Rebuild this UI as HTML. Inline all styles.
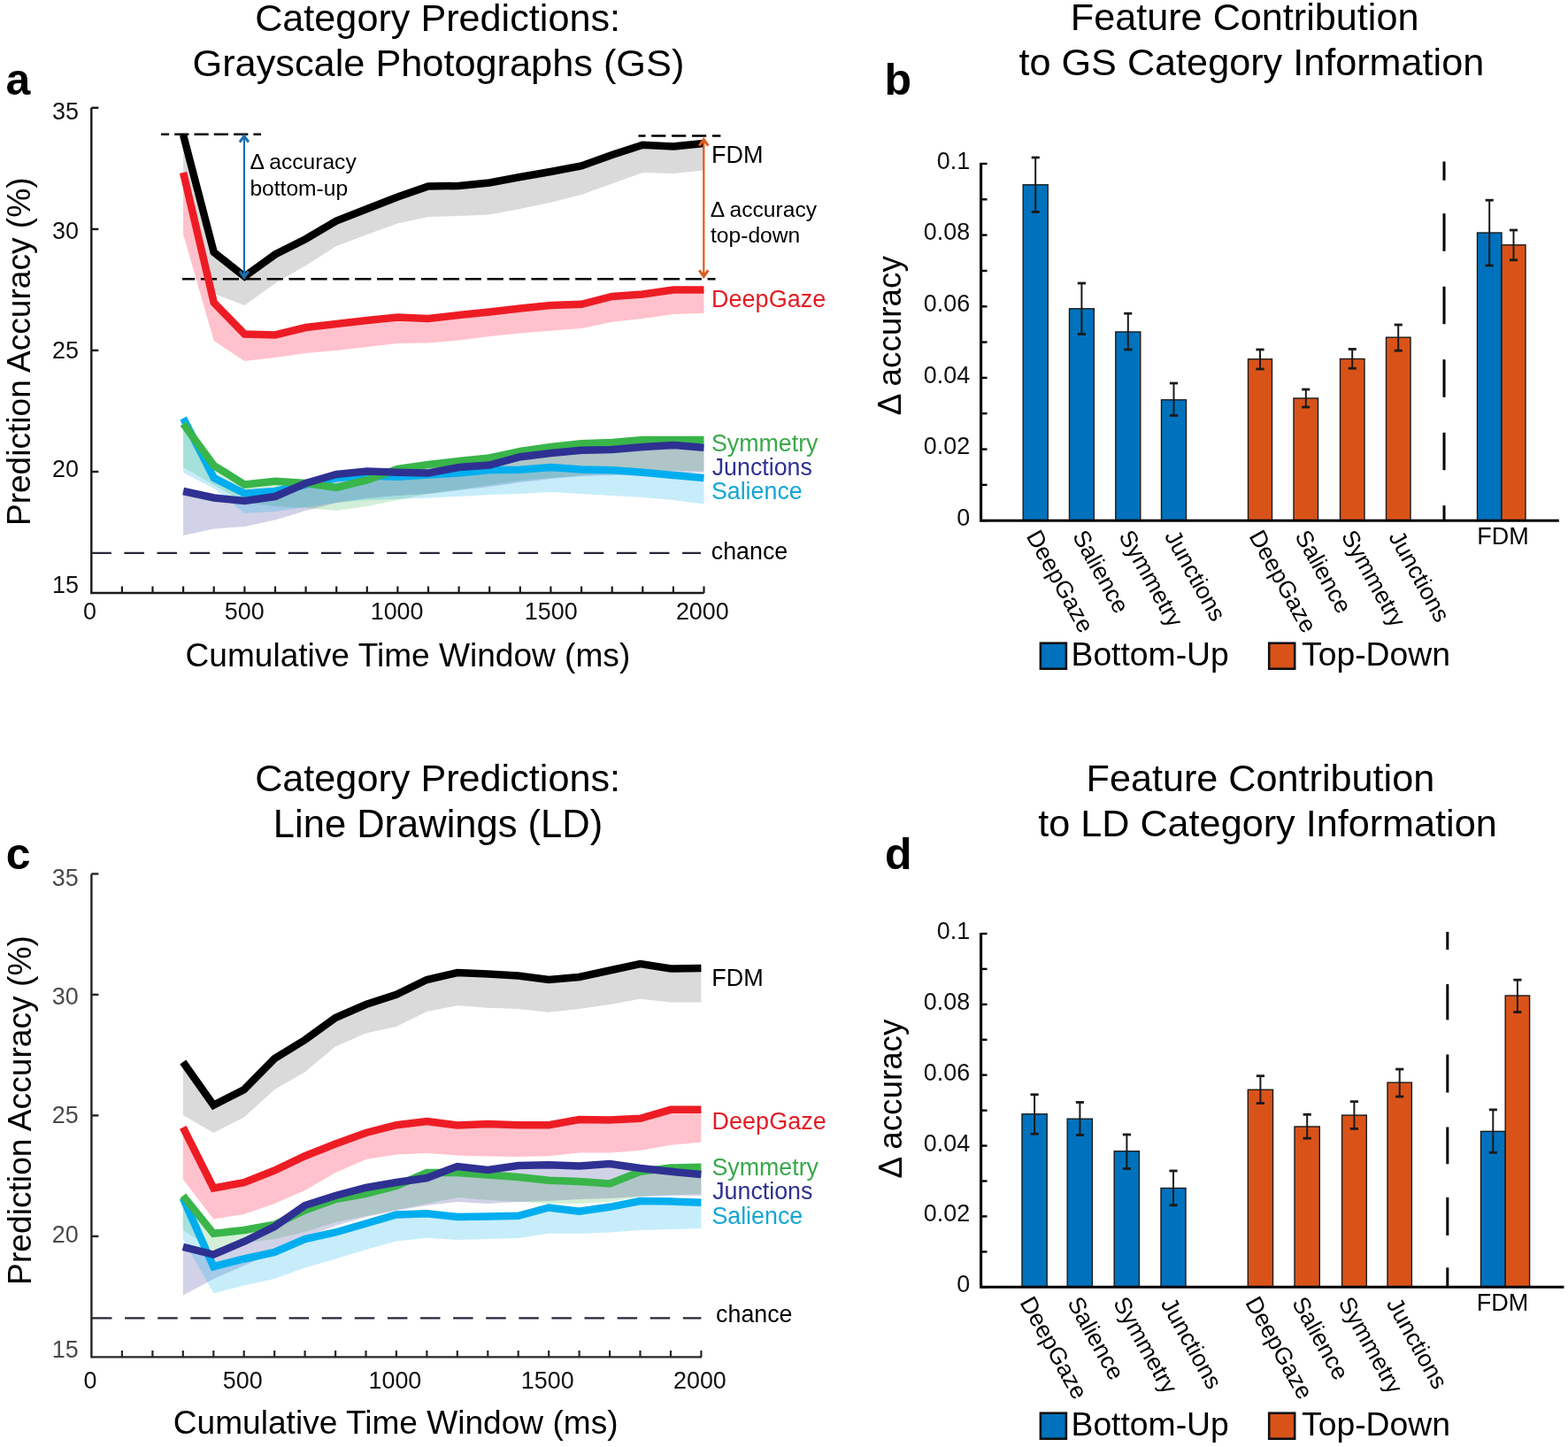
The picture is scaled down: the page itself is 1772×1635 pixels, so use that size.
<!DOCTYPE html>
<html><head><meta charset="utf-8"><title>Figure</title>
<style>html,body{margin:0;padding:0;background:#fff;} svg{display:block;} text{font-family:'Liberation Sans',Arial,Helvetica,sans-serif;}</style>
</head><body>
<svg width="1772" height="1635" viewBox="0 0 1772 1635">
<rect width="1772" height="1635" fill="#fff"/>
<polygon points="207.1,152.5 241.7,285.0 276.4,312.5 311.0,287.5 345.6,270.0 380.2,249.5 414.8,236.0 449.4,222.5 484.0,210.5 518.6,210.0 553.2,206.5 587.8,200.0 622.4,194.0 657.1,187.5 691.7,175.0 726.3,163.8 760.9,165.5 795.5,162.0 795.5,192.5 760.9,196.0 726.3,195.0 691.7,207.5 657.1,220.0 622.4,228.8 587.8,236.0 553.2,242.5 518.6,244.0 484.0,245.0 449.4,252.5 414.8,265.0 380.2,278.0 345.6,300.0 311.0,320.0 276.4,345.0 241.7,332.0 207.1,200.0" fill="#dadada" fill-opacity="1"/>
<polygon points="207.1,195.0 241.7,342.0 276.4,377.5 311.0,378.5 345.6,370.0 380.2,366.0 414.8,362.0 449.4,358.5 484.0,360.0 518.6,356.0 553.2,352.5 587.8,348.5 622.4,345.0 657.1,343.8 691.7,335.0 726.3,332.5 760.9,327.5 795.5,327.5 795.5,353.8 760.9,355.0 726.3,360.0 691.7,363.8 657.1,371.0 622.4,373.8 587.8,376.5 553.2,380.0 518.6,384.5 484.0,387.5 449.4,388.0 414.8,392.0 380.2,396.0 345.6,399.0 311.0,404.0 276.4,408.0 241.7,385.0 207.1,265.0" fill="#ffc2cc" fill-opacity="1"/>
<polygon points="207.1,478.8 241.7,526.0 276.4,547.5 311.0,543.8 345.6,546.0 380.2,551.0 414.8,542.5 449.4,530.0 484.0,525.0 518.6,521.0 553.2,517.5 587.8,510.0 622.4,505.0 657.1,501.2 691.7,500.0 726.3,497.0 760.9,497.0 795.5,497.0 795.5,532.0 760.9,532.0 726.3,533.0 691.7,535.0 657.1,537.0 622.4,540.0 587.8,543.0 553.2,548.0 518.6,553.0 484.0,558.0 449.4,565.0 414.8,572.0 380.2,577.0 345.6,574.0 311.0,572.0 276.4,568.0 241.7,548.0 207.1,528.0" fill="#39b54a" fill-opacity="0.22"/>
<polygon points="207.1,555.0 241.7,562.5 276.4,566.0 311.0,561.0 345.6,546.0 380.2,536.0 414.8,532.5 449.4,533.8 484.0,534.5 518.6,528.0 553.2,525.5 587.8,516.2 622.4,512.0 657.1,508.8 691.7,508.0 726.3,505.0 760.9,503.0 795.5,505.8 795.5,534.0 760.9,534.0 726.3,535.0 691.7,537.0 657.1,538.0 622.4,541.0 587.8,545.0 553.2,550.0 518.6,554.0 484.0,558.0 449.4,560.0 414.8,563.0 380.2,568.0 345.6,577.0 311.0,587.5 276.4,595.0 241.7,597.5 207.1,605.0" fill="#2e3192" fill-opacity="0.22"/>
<polygon points="207.1,472.5 241.7,540.0 276.4,557.5 311.0,555.0 345.6,547.5 380.2,540.0 414.8,537.5 449.4,538.8 484.0,536.5 518.6,534.5 553.2,531.0 587.8,530.8 622.4,528.0 657.1,530.5 691.7,531.2 726.3,533.8 760.9,537.0 795.5,540.0 795.5,569.5 760.9,565.0 726.3,562.0 691.7,560.0 657.1,558.0 622.4,556.0 587.8,558.0 553.2,559.0 518.6,561.0 484.0,562.5 449.4,564.0 414.8,565.0 380.2,568.0 345.6,573.0 311.0,578.0 276.4,580.0 241.7,552.0 207.1,534.0" fill="#00aeef" fill-opacity="0.22"/>
<line x1="103.3" y1="624.8" x2="792" y2="624.8" stroke="#262638" stroke-width="2.3" stroke-dasharray="22.5 14.6"/>
<line x1="182" y1="151.7" x2="295" y2="151.7" stroke="#000" stroke-width="2.6" stroke-dasharray="16.2 6.1" stroke-dashoffset="7.1"/>
<line x1="721.5" y1="153.5" x2="814.4" y2="153.5" stroke="#000" stroke-width="2.6" stroke-dasharray="16.2 6.7" stroke-dashoffset="8.2"/>
<line x1="206" y1="315.3" x2="808.5" y2="315.3" stroke="#000" stroke-width="2.6" stroke-dasharray="18.2 6.7" stroke-dashoffset="4"/>
<polyline points="207.1,472.5 241.7,540.0 276.4,557.5 311.0,555.0 345.6,547.5 380.2,540.0 414.8,537.5 449.4,538.8 484.0,536.5 518.6,534.5 553.2,531.0 587.8,530.8 622.4,528.0 657.1,530.5 691.7,531.2 726.3,533.8 760.9,537.0 795.5,540.0" fill="none" stroke="#00aeef" stroke-width="8.5" stroke-linejoin="miter" stroke-miterlimit="10" stroke-linecap="butt"/>
<polyline points="207.1,478.8 241.7,526.0 276.4,547.5 311.0,543.8 345.6,546.0 380.2,551.0 414.8,542.5 449.4,530.0 484.0,525.0 518.6,521.0 553.2,517.5 587.8,510.0 622.4,505.0 657.1,501.2 691.7,500.0 726.3,497.0 760.9,497.0 795.5,497.0" fill="none" stroke="#39b54a" stroke-width="8.5" stroke-linejoin="miter" stroke-miterlimit="10" stroke-linecap="butt"/>
<polyline points="207.1,555.0 241.7,562.5 276.4,566.0 311.0,561.0 345.6,546.0 380.2,536.0 414.8,532.5 449.4,533.8 484.0,534.5 518.6,528.0 553.2,525.5 587.8,516.2 622.4,512.0 657.1,508.8 691.7,508.0 726.3,505.0 760.9,503.0 795.5,505.8" fill="none" stroke="#2e3192" stroke-width="8.5" stroke-linejoin="miter" stroke-miterlimit="10" stroke-linecap="butt"/>
<polyline points="207.1,195.0 241.7,342.0 276.4,377.5 311.0,378.5 345.6,370.0 380.2,366.0 414.8,362.0 449.4,358.5 484.0,360.0 518.6,356.0 553.2,352.5 587.8,348.5 622.4,345.0 657.1,343.8 691.7,335.0 726.3,332.5 760.9,327.5 795.5,327.5" fill="none" stroke="#ed1c24" stroke-width="8.5" stroke-linejoin="miter" stroke-miterlimit="10" stroke-linecap="butt"/>
<polyline points="207.1,152.5 241.7,285.0 276.4,312.5 311.0,287.5 345.6,270.0 380.2,249.5 414.8,236.0 449.4,222.5 484.0,210.5 518.6,210.0 553.2,206.5 587.8,200.0 622.4,194.0 657.1,187.5 691.7,175.0 726.3,163.8 760.9,165.5 795.5,162.0" fill="none" stroke="#000000" stroke-width="8.5" stroke-linejoin="miter" stroke-miterlimit="10" stroke-linecap="butt"/>
<line x1="275.9" y1="154.5" x2="275.9" y2="312.5" stroke="#1f6fae" stroke-width="2.2"/>
<path d="M270.9,160.7 L275.9,153.7 L280.9,160.7" fill="none" stroke="#1f6fae" stroke-width="3" stroke-linejoin="miter"/>
<path d="M270.9,306.3 L275.9,313.3 L280.9,306.3" fill="none" stroke="#1f6fae" stroke-width="3" stroke-linejoin="miter"/>
<line x1="795.3" y1="158.5" x2="795.3" y2="311.5" stroke="#e05a1e" stroke-width="2.2"/>
<path d="M790.3,164.7 L795.3,157.7 L800.3,164.7" fill="none" stroke="#e05a1e" stroke-width="3" stroke-linejoin="miter"/>
<path d="M790.3,305.3 L795.3,312.3 L800.3,305.3" fill="none" stroke="#e05a1e" stroke-width="3" stroke-linejoin="miter"/>
<path d="M103.3,121.8 V670 H795.5" fill="none" stroke="#1a1a1a" stroke-width="2.4"/>
<line x1="103.3" y1="121.8" x2="111.3" y2="121.8" stroke="#1a1a1a" stroke-width="2.4"/>
<line x1="103.3" y1="258.9" x2="111.3" y2="258.9" stroke="#1a1a1a" stroke-width="2.4"/>
<line x1="103.3" y1="395.9" x2="111.3" y2="395.9" stroke="#1a1a1a" stroke-width="2.4"/>
<line x1="103.3" y1="533.0" x2="111.3" y2="533.0" stroke="#1a1a1a" stroke-width="2.4"/>
<line x1="137.9" y1="670" x2="137.9" y2="662.5" stroke="#1a1a1a" stroke-width="2.2"/>
<line x1="172.5" y1="670" x2="172.5" y2="662.5" stroke="#1a1a1a" stroke-width="2.2"/>
<line x1="207.1" y1="670" x2="207.1" y2="662.5" stroke="#1a1a1a" stroke-width="2.2"/>
<line x1="241.7" y1="670" x2="241.7" y2="662.5" stroke="#1a1a1a" stroke-width="2.2"/>
<line x1="276.4" y1="670" x2="276.4" y2="662.5" stroke="#1a1a1a" stroke-width="2.2"/>
<line x1="311.0" y1="670" x2="311.0" y2="662.5" stroke="#1a1a1a" stroke-width="2.2"/>
<line x1="345.6" y1="670" x2="345.6" y2="662.5" stroke="#1a1a1a" stroke-width="2.2"/>
<line x1="380.2" y1="670" x2="380.2" y2="662.5" stroke="#1a1a1a" stroke-width="2.2"/>
<line x1="414.8" y1="670" x2="414.8" y2="662.5" stroke="#1a1a1a" stroke-width="2.2"/>
<line x1="449.4" y1="670" x2="449.4" y2="662.5" stroke="#1a1a1a" stroke-width="2.2"/>
<line x1="484.0" y1="670" x2="484.0" y2="662.5" stroke="#1a1a1a" stroke-width="2.2"/>
<line x1="518.6" y1="670" x2="518.6" y2="662.5" stroke="#1a1a1a" stroke-width="2.2"/>
<line x1="553.2" y1="670" x2="553.2" y2="662.5" stroke="#1a1a1a" stroke-width="2.2"/>
<line x1="587.8" y1="670" x2="587.8" y2="662.5" stroke="#1a1a1a" stroke-width="2.2"/>
<line x1="622.4" y1="670" x2="622.4" y2="662.5" stroke="#1a1a1a" stroke-width="2.2"/>
<line x1="657.1" y1="670" x2="657.1" y2="662.5" stroke="#1a1a1a" stroke-width="2.2"/>
<line x1="691.7" y1="670" x2="691.7" y2="662.5" stroke="#1a1a1a" stroke-width="2.2"/>
<line x1="726.3" y1="670" x2="726.3" y2="662.5" stroke="#1a1a1a" stroke-width="2.2"/>
<line x1="760.9" y1="670" x2="760.9" y2="662.5" stroke="#1a1a1a" stroke-width="2.2"/>
<line x1="795.5" y1="670" x2="795.5" y2="662.5" stroke="#1a1a1a" stroke-width="2.2"/>
<text x="88.9" y="134.8" font-size="26.9" fill="#111" text-anchor="end" >35</text>
<text x="88.9" y="270.4" font-size="26.9" fill="#111" text-anchor="end" >30</text>
<text x="88.9" y="405.0" font-size="26.9" fill="#111" text-anchor="end" >25</text>
<text x="88.9" y="538.8" font-size="26.9" fill="#111" text-anchor="end" >20</text>
<text x="88.9" y="669.6" font-size="26.9" fill="#111" text-anchor="end" >15</text>
<text x="101.5" y="700.3" font-size="26.9" fill="#111" text-anchor="middle" >0</text>
<text x="276.2" y="700.3" font-size="26.9" fill="#111" text-anchor="middle" >500</text>
<text x="448.6" y="700.3" font-size="26.9" fill="#111" text-anchor="middle" >1000</text>
<text x="622.7" y="700.3" font-size="26.9" fill="#111" text-anchor="middle" >1500</text>
<text x="793.8" y="700.3" font-size="26.9" fill="#111" text-anchor="middle" >2000</text>
<text x="460.9" y="752.5" font-size="37.1" fill="#000" text-anchor="middle" >Cumulative Time Window (ms)</text>
<text transform="translate(33.6,397.3) rotate(-90)" font-size="37.1" text-anchor="middle" fill="#000">Prediction Accuracy (%)</text>
<text x="494.6" y="35.0" font-size="43.2" fill="#000" text-anchor="middle" >Category Predictions:</text>
<text x="495.4" y="86.3" font-size="43.3" fill="#000" text-anchor="middle" >Grayscale Photographs (GS)</text>
<text x="6.6" y="107.1" font-size="50" font-weight="bold" fill="#000">a</text>
<text x="803.9" y="184.0" font-size="27" fill="#000" text-anchor="start" >FDM</text>
<text x="804.1" y="346.8" font-size="27" fill="#e31b23" text-anchor="start" >DeepGaze</text>
<text x="803.9" y="509.8" font-size="26.8" fill="#3aa84a" text-anchor="start" >Symmetry</text>
<text x="804.7" y="537.3" font-size="26.8" fill="#2e3192" text-anchor="start" >Junctions</text>
<text x="803.9" y="564.4" font-size="26.8" fill="#13a6d4" text-anchor="start" >Salience</text>
<text x="803.8" y="631.8" font-size="26.8" fill="#000" text-anchor="start" >chance</text>
<text x="282.4" y="190.5" font-size="24.6" fill="#000" text-anchor="start" >Δ accuracy</text>
<text x="282.4" y="220.5" font-size="24.6" fill="#000" text-anchor="start" >bottom-up</text>
<text x="802.7" y="244.7" font-size="24.6" fill="#000" text-anchor="start" >Δ accuracy</text>
<text x="803.0" y="273.9" font-size="24.6" fill="#000" text-anchor="start" >top-down</text>
<polygon points="206.8,1200.0 241.3,1248.8 275.7,1231.2 310.2,1196.2 344.6,1175.0 379.1,1150.0 413.5,1135.0 447.9,1123.8 482.4,1107.0 516.8,1099.0 551.3,1100.5 585.7,1102.5 620.2,1107.0 654.6,1104.0 689.1,1096.5 723.5,1089.0 758.0,1094.5 792.4,1094.0 792.4,1132.5 758.0,1132.5 723.5,1128.8 689.1,1135.0 654.6,1140.0 620.2,1143.8 585.7,1140.0 551.3,1138.8 516.8,1136.2 482.4,1143.0 447.9,1160.0 413.5,1167.5 379.1,1182.5 344.6,1211.2 310.2,1231.2 275.7,1262.5 241.3,1280.0 206.8,1260.0" fill="#dadada" fill-opacity="1"/>
<polygon points="206.8,1273.8 241.3,1342.5 275.7,1336.2 310.2,1322.5 344.6,1306.2 379.1,1292.5 413.5,1280.0 447.9,1271.2 482.4,1267.0 516.8,1271.5 551.3,1270.0 585.7,1271.2 620.2,1271.2 654.6,1265.0 689.1,1265.5 723.5,1263.8 758.0,1253.8 792.4,1253.8 792.4,1290.5 758.0,1293.8 723.5,1300.0 689.1,1302.5 654.6,1302.5 620.2,1306.2 585.7,1307.0 551.3,1306.5 516.8,1305.5 482.4,1303.0 447.9,1304.5 413.5,1310.0 379.1,1325.0 344.6,1345.0 310.2,1360.0 275.7,1372.0 241.3,1377.5 206.8,1332.5" fill="#ffc2cc" fill-opacity="1"/>
<polygon points="206.8,1351.2 241.3,1393.8 275.7,1390.0 310.2,1383.8 344.6,1367.5 379.1,1355.0 413.5,1348.8 447.9,1340.0 482.4,1325.0 516.8,1325.0 551.3,1327.5 585.7,1330.0 620.2,1333.8 654.6,1335.0 689.1,1337.5 723.5,1323.8 758.0,1319.5 792.4,1318.8 792.4,1349.0 758.0,1350.0 723.5,1352.0 689.1,1358.0 654.6,1360.0 620.2,1360.0 585.7,1358.0 551.3,1356.0 516.8,1353.0 482.4,1360.0 447.9,1367.0 413.5,1374.0 379.1,1381.0 344.6,1392.0 310.2,1400.0 275.7,1405.0 241.3,1412.5 206.8,1390.0" fill="#39b54a" fill-opacity="0.22"/>
<polygon points="206.8,1408.8 241.3,1417.5 275.7,1403.0 310.2,1386.0 344.6,1362.0 379.1,1351.0 413.5,1342.0 447.9,1336.0 482.4,1331.0 516.8,1318.0 551.3,1322.0 585.7,1317.0 620.2,1316.2 654.6,1317.5 689.1,1315.0 723.5,1320.0 758.0,1323.8 792.4,1327.0 792.4,1351.0 758.0,1351.0 723.5,1352.0 689.1,1354.0 654.6,1355.0 620.2,1357.0 585.7,1358.0 551.3,1360.0 516.8,1358.0 482.4,1362.0 447.9,1368.0 413.5,1375.0 379.1,1385.0 344.6,1398.0 310.2,1415.0 275.7,1430.0 241.3,1445.0 206.8,1463.8" fill="#2e3192" fill-opacity="0.22"/>
<polygon points="206.8,1353.8 241.3,1431.2 275.7,1422.5 310.2,1415.0 344.6,1400.0 379.1,1392.5 413.5,1382.5 447.9,1372.5 482.4,1371.2 516.8,1375.0 551.3,1374.5 585.7,1373.8 620.2,1364.5 654.6,1368.8 689.1,1363.8 723.5,1357.0 758.0,1357.5 792.4,1358.8 792.4,1388.0 758.0,1389.0 723.5,1390.0 689.1,1392.5 654.6,1394.0 620.2,1393.8 585.7,1399.0 551.3,1400.0 516.8,1401.0 482.4,1398.8 447.9,1402.5 413.5,1412.0 379.1,1422.5 344.6,1432.5 310.2,1445.0 275.7,1452.5 241.3,1461.2 206.8,1400.0" fill="#00aeef" fill-opacity="0.22"/>
<line x1="104" y1="1489.3" x2="792.4" y2="1489.3" stroke="#262638" stroke-width="2.3" stroke-dasharray="22.5 14.6"/>
<polyline points="206.8,1353.8 241.3,1431.2 275.7,1422.5 310.2,1415.0 344.6,1400.0 379.1,1392.5 413.5,1382.5 447.9,1372.5 482.4,1371.2 516.8,1375.0 551.3,1374.5 585.7,1373.8 620.2,1364.5 654.6,1368.8 689.1,1363.8 723.5,1357.0 758.0,1357.5 792.4,1358.8" fill="none" stroke="#00aeef" stroke-width="8.5" stroke-linejoin="miter" stroke-miterlimit="10" stroke-linecap="butt"/>
<polyline points="206.8,1351.2 241.3,1393.8 275.7,1390.0 310.2,1383.8 344.6,1367.5 379.1,1355.0 413.5,1348.8 447.9,1340.0 482.4,1325.0 516.8,1325.0 551.3,1327.5 585.7,1330.0 620.2,1333.8 654.6,1335.0 689.1,1337.5 723.5,1323.8 758.0,1319.5 792.4,1318.8" fill="none" stroke="#39b54a" stroke-width="8.5" stroke-linejoin="miter" stroke-miterlimit="10" stroke-linecap="butt"/>
<polyline points="206.8,1408.8 241.3,1417.5 275.7,1403.0 310.2,1386.0 344.6,1362.0 379.1,1351.0 413.5,1342.0 447.9,1336.0 482.4,1331.0 516.8,1318.0 551.3,1322.0 585.7,1317.0 620.2,1316.2 654.6,1317.5 689.1,1315.0 723.5,1320.0 758.0,1323.8 792.4,1327.0" fill="none" stroke="#2e3192" stroke-width="8.5" stroke-linejoin="miter" stroke-miterlimit="10" stroke-linecap="butt"/>
<polyline points="206.8,1273.8 241.3,1342.5 275.7,1336.2 310.2,1322.5 344.6,1306.2 379.1,1292.5 413.5,1280.0 447.9,1271.2 482.4,1267.0 516.8,1271.5 551.3,1270.0 585.7,1271.2 620.2,1271.2 654.6,1265.0 689.1,1265.5 723.5,1263.8 758.0,1253.8 792.4,1253.8" fill="none" stroke="#ed1c24" stroke-width="8.5" stroke-linejoin="miter" stroke-miterlimit="10" stroke-linecap="butt"/>
<polyline points="206.8,1200.0 241.3,1248.8 275.7,1231.2 310.2,1196.2 344.6,1175.0 379.1,1150.0 413.5,1135.0 447.9,1123.8 482.4,1107.0 516.8,1099.0 551.3,1100.5 585.7,1102.5 620.2,1107.0 654.6,1104.0 689.1,1096.5 723.5,1089.0 758.0,1094.5 792.4,1094.0" fill="none" stroke="#000000" stroke-width="8.5" stroke-linejoin="miter" stroke-miterlimit="10" stroke-linecap="butt"/>
<path d="M103.4,987.5 V1533.4 H793" fill="none" stroke="#262626" stroke-width="2.4"/>
<line x1="103.4" y1="987.4" x2="111.4" y2="987.4" stroke="#262626" stroke-width="2.4"/>
<line x1="103.4" y1="1123.9" x2="111.4" y2="1123.9" stroke="#262626" stroke-width="2.4"/>
<line x1="103.4" y1="1260.4" x2="111.4" y2="1260.4" stroke="#262626" stroke-width="2.4"/>
<line x1="103.4" y1="1396.9" x2="111.4" y2="1396.9" stroke="#262626" stroke-width="2.4"/>
<line x1="137.9" y1="1533.4" x2="137.9" y2="1526" stroke="#262626" stroke-width="2.2"/>
<line x1="172.4" y1="1533.4" x2="172.4" y2="1526" stroke="#262626" stroke-width="2.2"/>
<line x1="206.8" y1="1533.4" x2="206.8" y2="1526" stroke="#262626" stroke-width="2.2"/>
<line x1="241.3" y1="1533.4" x2="241.3" y2="1526" stroke="#262626" stroke-width="2.2"/>
<line x1="275.7" y1="1533.4" x2="275.7" y2="1526" stroke="#262626" stroke-width="2.2"/>
<line x1="310.2" y1="1533.4" x2="310.2" y2="1526" stroke="#262626" stroke-width="2.2"/>
<line x1="344.6" y1="1533.4" x2="344.6" y2="1526" stroke="#262626" stroke-width="2.2"/>
<line x1="379.1" y1="1533.4" x2="379.1" y2="1526" stroke="#262626" stroke-width="2.2"/>
<line x1="413.5" y1="1533.4" x2="413.5" y2="1526" stroke="#262626" stroke-width="2.2"/>
<line x1="447.9" y1="1533.4" x2="447.9" y2="1526" stroke="#262626" stroke-width="2.2"/>
<line x1="482.4" y1="1533.4" x2="482.4" y2="1526" stroke="#262626" stroke-width="2.2"/>
<line x1="516.8" y1="1533.4" x2="516.8" y2="1526" stroke="#262626" stroke-width="2.2"/>
<line x1="551.3" y1="1533.4" x2="551.3" y2="1526" stroke="#262626" stroke-width="2.2"/>
<line x1="585.7" y1="1533.4" x2="585.7" y2="1526" stroke="#262626" stroke-width="2.2"/>
<line x1="620.2" y1="1533.4" x2="620.2" y2="1526" stroke="#262626" stroke-width="2.2"/>
<line x1="654.6" y1="1533.4" x2="654.6" y2="1526" stroke="#262626" stroke-width="2.2"/>
<line x1="689.1" y1="1533.4" x2="689.1" y2="1526" stroke="#262626" stroke-width="2.2"/>
<line x1="723.5" y1="1533.4" x2="723.5" y2="1526" stroke="#262626" stroke-width="2.2"/>
<line x1="758.0" y1="1533.4" x2="758.0" y2="1526" stroke="#262626" stroke-width="2.2"/>
<line x1="792.4" y1="1533.4" x2="792.4" y2="1526" stroke="#262626" stroke-width="2.2"/>
<text x="88.6" y="1000.7" font-size="26.9" fill="#4a4a4a" text-anchor="end" >35</text>
<text x="88.6" y="1135.4" font-size="26.9" fill="#4a4a4a" text-anchor="end" >30</text>
<text x="88.6" y="1269.0" font-size="26.9" fill="#4a4a4a" text-anchor="end" >25</text>
<text x="88.6" y="1404.4" font-size="26.9" fill="#4a4a4a" text-anchor="end" >20</text>
<text x="88.6" y="1534.0" font-size="26.9" fill="#4a4a4a" text-anchor="end" >15</text>
<text x="102.0" y="1569.2" font-size="26.9" fill="#111" text-anchor="middle" >0</text>
<text x="274.2" y="1569.2" font-size="26.9" fill="#111" text-anchor="middle" >500</text>
<text x="446.4" y="1569.2" font-size="26.9" fill="#111" text-anchor="middle" >1000</text>
<text x="618.7" y="1569.2" font-size="26.9" fill="#111" text-anchor="middle" >1500</text>
<text x="790.9" y="1569.2" font-size="26.9" fill="#111" text-anchor="middle" >2000</text>
<text x="447.2" y="1620.2" font-size="37.1" fill="#000" text-anchor="middle" >Cumulative Time Window (ms)</text>
<text transform="translate(34.5,1254.5) rotate(-90)" font-size="37.2" text-anchor="middle" fill="#000">Prediction Accuracy (%)</text>
<text x="494.6" y="894.2" font-size="43.2" fill="#000" text-anchor="middle" >Category Predictions:</text>
<text x="495.0" y="945.9" font-size="43.5" fill="#000" text-anchor="middle" >Line Drawings (LD)</text>
<text x="6.8" y="982.2" font-size="50" font-weight="bold" fill="#000">c</text>
<text x="804.3" y="1114.2" font-size="27" fill="#000" text-anchor="start" >FDM</text>
<text x="804.6" y="1276.1" font-size="27" fill="#e31b23" text-anchor="start" >DeepGaze</text>
<text x="804.4" y="1327.8" font-size="26.8" fill="#3aa84a" text-anchor="start" >Symmetry</text>
<text x="805.2" y="1354.8" font-size="26.8" fill="#2e3192" text-anchor="start" >Junctions</text>
<text x="804.4" y="1382.8" font-size="26.8" fill="#13a6d4" text-anchor="start" >Salience</text>
<text x="809.1" y="1494.0" font-size="26.8" fill="#000" text-anchor="start" >chance</text>
<rect x="1156.2" y="208.8" width="28.0" height="379.5" fill="#0072bd" stroke="#1a1a1a" stroke-width="1.4"/>
<rect x="1208.5" y="348.8" width="27.8" height="239.5" fill="#0072bd" stroke="#1a1a1a" stroke-width="1.4"/>
<rect x="1260.8" y="375.0" width="28.0" height="213.2" fill="#0072bd" stroke="#1a1a1a" stroke-width="1.4"/>
<rect x="1312.5" y="451.8" width="28.0" height="136.5" fill="#0072bd" stroke="#1a1a1a" stroke-width="1.4"/>
<rect x="1410.5" y="405.8" width="27.0" height="182.5" fill="#d95319" stroke="#1a1a1a" stroke-width="1.4"/>
<rect x="1462.0" y="450.0" width="27.5" height="138.2" fill="#d95319" stroke="#1a1a1a" stroke-width="1.4"/>
<rect x="1514.5" y="405.5" width="27.5" height="182.7" fill="#d95319" stroke="#1a1a1a" stroke-width="1.4"/>
<rect x="1566.5" y="381.2" width="27.5" height="207.0" fill="#d95319" stroke="#1a1a1a" stroke-width="1.4"/>
<rect x="1669.5" y="263.0" width="27.5" height="325.2" fill="#0072bd" stroke="#1a1a1a" stroke-width="1.4"/>
<rect x="1697.0" y="276.8" width="27.0" height="311.5" fill="#d95319" stroke="#1a1a1a" stroke-width="1.4"/>
<line x1="1170.2" y1="178.0" x2="1170.2" y2="239.5" stroke="#1a1a1a" stroke-width="2"/>
<line x1="1165.7" y1="178.0" x2="1174.8" y2="178.0" stroke="#1a1a1a" stroke-width="2.8"/>
<line x1="1165.7" y1="239.5" x2="1174.8" y2="239.5" stroke="#1a1a1a" stroke-width="2.8"/>
<line x1="1222.4" y1="320.0" x2="1222.4" y2="377.5" stroke="#1a1a1a" stroke-width="2"/>
<line x1="1217.8" y1="320.0" x2="1227.0" y2="320.0" stroke="#1a1a1a" stroke-width="2.8"/>
<line x1="1217.8" y1="377.5" x2="1227.0" y2="377.5" stroke="#1a1a1a" stroke-width="2.8"/>
<line x1="1274.8" y1="354.2" x2="1274.8" y2="395.0" stroke="#1a1a1a" stroke-width="2"/>
<line x1="1270.2" y1="354.2" x2="1279.3" y2="354.2" stroke="#1a1a1a" stroke-width="2.8"/>
<line x1="1270.2" y1="395.0" x2="1279.3" y2="395.0" stroke="#1a1a1a" stroke-width="2.8"/>
<line x1="1326.5" y1="433.0" x2="1326.5" y2="469.5" stroke="#1a1a1a" stroke-width="2"/>
<line x1="1321.9" y1="433.0" x2="1331.1" y2="433.0" stroke="#1a1a1a" stroke-width="2.8"/>
<line x1="1321.9" y1="469.5" x2="1331.1" y2="469.5" stroke="#1a1a1a" stroke-width="2.8"/>
<line x1="1424.0" y1="395.0" x2="1424.0" y2="417.0" stroke="#1a1a1a" stroke-width="2"/>
<line x1="1419.4" y1="395.0" x2="1428.6" y2="395.0" stroke="#1a1a1a" stroke-width="2.8"/>
<line x1="1419.4" y1="417.0" x2="1428.6" y2="417.0" stroke="#1a1a1a" stroke-width="2.8"/>
<line x1="1475.8" y1="440.0" x2="1475.8" y2="460.0" stroke="#1a1a1a" stroke-width="2"/>
<line x1="1471.2" y1="440.0" x2="1480.3" y2="440.0" stroke="#1a1a1a" stroke-width="2.8"/>
<line x1="1471.2" y1="460.0" x2="1480.3" y2="460.0" stroke="#1a1a1a" stroke-width="2.8"/>
<line x1="1528.2" y1="394.5" x2="1528.2" y2="416.2" stroke="#1a1a1a" stroke-width="2"/>
<line x1="1523.7" y1="394.5" x2="1532.8" y2="394.5" stroke="#1a1a1a" stroke-width="2.8"/>
<line x1="1523.7" y1="416.2" x2="1532.8" y2="416.2" stroke="#1a1a1a" stroke-width="2.8"/>
<line x1="1580.2" y1="367.0" x2="1580.2" y2="396.2" stroke="#1a1a1a" stroke-width="2"/>
<line x1="1575.7" y1="367.0" x2="1584.8" y2="367.0" stroke="#1a1a1a" stroke-width="2.8"/>
<line x1="1575.7" y1="396.2" x2="1584.8" y2="396.2" stroke="#1a1a1a" stroke-width="2.8"/>
<line x1="1683.2" y1="226.2" x2="1683.2" y2="300.0" stroke="#1a1a1a" stroke-width="2"/>
<line x1="1678.7" y1="226.2" x2="1687.8" y2="226.2" stroke="#1a1a1a" stroke-width="2.8"/>
<line x1="1678.7" y1="300.0" x2="1687.8" y2="300.0" stroke="#1a1a1a" stroke-width="2.8"/>
<line x1="1710.5" y1="260.0" x2="1710.5" y2="293.8" stroke="#1a1a1a" stroke-width="2"/>
<line x1="1705.9" y1="260.0" x2="1715.1" y2="260.0" stroke="#1a1a1a" stroke-width="2.8"/>
<line x1="1705.9" y1="293.8" x2="1715.1" y2="293.8" stroke="#1a1a1a" stroke-width="2.8"/>
<line x1="1632" y1="182.5" x2="1632" y2="203.8" stroke="#000" stroke-width="3"/>
<line x1="1632" y1="241.2" x2="1632" y2="283.8" stroke="#000" stroke-width="3"/>
<line x1="1632" y1="323.8" x2="1632" y2="366.2" stroke="#000" stroke-width="3"/>
<line x1="1632" y1="406.2" x2="1632" y2="448.8" stroke="#000" stroke-width="3"/>
<line x1="1632" y1="488.8" x2="1632" y2="531.2" stroke="#000" stroke-width="3"/>
<line x1="1632" y1="571.2" x2="1632" y2="588.0" stroke="#000" stroke-width="3"/>
<path d="M1108.6,184.0 V588.2 H1761.8" fill="none" stroke="#000" stroke-width="3.1"/>
<line x1="1108.6" y1="588.2" x2="1115.5" y2="588.2" stroke="#000" stroke-width="2.4"/>
<line x1="1108.6" y1="547.9" x2="1115.5" y2="547.9" stroke="#000" stroke-width="2.4"/>
<line x1="1108.6" y1="507.6" x2="1115.5" y2="507.6" stroke="#000" stroke-width="2.4"/>
<line x1="1108.6" y1="467.2" x2="1115.5" y2="467.2" stroke="#000" stroke-width="2.4"/>
<line x1="1108.6" y1="426.9" x2="1115.5" y2="426.9" stroke="#000" stroke-width="2.4"/>
<line x1="1108.6" y1="386.6" x2="1115.5" y2="386.6" stroke="#000" stroke-width="2.4"/>
<line x1="1108.6" y1="346.3" x2="1115.5" y2="346.3" stroke="#000" stroke-width="2.4"/>
<line x1="1108.6" y1="306.0" x2="1115.5" y2="306.0" stroke="#000" stroke-width="2.4"/>
<line x1="1108.6" y1="265.6" x2="1115.5" y2="265.6" stroke="#000" stroke-width="2.4"/>
<line x1="1108.6" y1="225.3" x2="1115.5" y2="225.3" stroke="#000" stroke-width="2.4"/>
<line x1="1108.6" y1="185.0" x2="1115.5" y2="185.0" stroke="#000" stroke-width="2.4"/>
<text x="1096.1" y="593.8" font-size="26.9" fill="#111" text-anchor="end" >0</text>
<text x="1096.1" y="513.2" font-size="26.9" fill="#111" text-anchor="end" >0.02</text>
<text x="1096.1" y="432.5" font-size="26.9" fill="#111" text-anchor="end" >0.04</text>
<text x="1096.1" y="351.9" font-size="26.9" fill="#111" text-anchor="end" >0.06</text>
<text x="1096.1" y="271.2" font-size="26.9" fill="#111" text-anchor="end" >0.08</text>
<text x="1096.1" y="190.6" font-size="26.9" fill="#111" text-anchor="end" >0.1</text>
<text transform="translate(1017.5,379.2) rotate(-90)" font-size="36.8" text-anchor="middle" fill="#000">Δ accuracy</text>
<text x="1209.8" y="33.6" font-size="43.2" fill="#000" text-anchor="start" >Feature Contribution</text>
<text x="1151.5" y="85.4" font-size="43.2" fill="#000" text-anchor="start" >to GS Category Information</text>
<text x="999.4" y="107" font-size="50" font-weight="bold" fill="#000">b</text>
<text transform="translate(1159.2,605.4) rotate(61)" font-size="26.7" fill="#000">DeepGaze</text>
<text transform="translate(1211.4,605.4) rotate(61)" font-size="26.7" fill="#000">Salience</text>
<text transform="translate(1263.8,605.4) rotate(61)" font-size="26.7" fill="#000">Symmetry</text>
<text transform="translate(1315.5,605.4) rotate(61)" font-size="26.7" fill="#000">Junctions</text>
<text transform="translate(1411.0,605.4) rotate(61)" font-size="26.7" fill="#000">DeepGaze</text>
<text transform="translate(1462.8,605.4) rotate(61)" font-size="26.7" fill="#000">Salience</text>
<text transform="translate(1515.2,605.4) rotate(61)" font-size="26.7" fill="#000">Symmetry</text>
<text transform="translate(1568.8,606.2) rotate(61)" font-size="26.7" fill="#000">Junctions</text>
<text x="1698.5" y="615.0" font-size="27" fill="#000" text-anchor="middle" >FDM</text>
<rect x="1175.9" y="726.7" width="29" height="29" fill="#0072bd" stroke="#111" stroke-width="2.6"/>
<rect x="1434.2" y="726.7" width="29" height="29" fill="#d95319" stroke="#111" stroke-width="2.6"/>
<text x="1210.5" y="752.3" font-size="37.3" fill="#000" text-anchor="start" >Bottom-Up</text>
<text x="1471.0" y="752.3" font-size="37.3" fill="#000" text-anchor="start" >Top-Down</text>
<rect x="1155.0" y="1258.8" width="28.2" height="195.5" fill="#0072bd" stroke="#1a1a1a" stroke-width="1.4"/>
<rect x="1206.2" y="1264.2" width="28.2" height="190.0" fill="#0072bd" stroke="#1a1a1a" stroke-width="1.4"/>
<rect x="1259.2" y="1300.8" width="28.2" height="153.5" fill="#0072bd" stroke="#1a1a1a" stroke-width="1.4"/>
<rect x="1312.0" y="1342.5" width="28.0" height="111.8" fill="#0072bd" stroke="#1a1a1a" stroke-width="1.4"/>
<rect x="1410.3" y="1231.3" width="28.2" height="223.0" fill="#d95319" stroke="#1a1a1a" stroke-width="1.4"/>
<rect x="1463.0" y="1273.0" width="28.3" height="181.3" fill="#d95319" stroke="#1a1a1a" stroke-width="1.4"/>
<rect x="1516.6" y="1260.1" width="27.7" height="194.2" fill="#d95319" stroke="#1a1a1a" stroke-width="1.4"/>
<rect x="1568.0" y="1223.2" width="27.4" height="231.1" fill="#d95319" stroke="#1a1a1a" stroke-width="1.4"/>
<rect x="1673.5" y="1278.4" width="27.7" height="175.9" fill="#0072bd" stroke="#1a1a1a" stroke-width="1.4"/>
<rect x="1701.2" y="1125.0" width="27.4" height="329.3" fill="#d95319" stroke="#1a1a1a" stroke-width="1.4"/>
<line x1="1169.1" y1="1236.8" x2="1169.1" y2="1281.2" stroke="#1a1a1a" stroke-width="2"/>
<line x1="1164.5" y1="1236.8" x2="1173.7" y2="1236.8" stroke="#1a1a1a" stroke-width="2.8"/>
<line x1="1164.5" y1="1281.2" x2="1173.7" y2="1281.2" stroke="#1a1a1a" stroke-width="2.8"/>
<line x1="1220.4" y1="1245.5" x2="1220.4" y2="1282.5" stroke="#1a1a1a" stroke-width="2"/>
<line x1="1215.8" y1="1245.5" x2="1225.0" y2="1245.5" stroke="#1a1a1a" stroke-width="2.8"/>
<line x1="1215.8" y1="1282.5" x2="1225.0" y2="1282.5" stroke="#1a1a1a" stroke-width="2.8"/>
<line x1="1273.4" y1="1282.0" x2="1273.4" y2="1320.5" stroke="#1a1a1a" stroke-width="2"/>
<line x1="1268.8" y1="1282.0" x2="1278.0" y2="1282.0" stroke="#1a1a1a" stroke-width="2.8"/>
<line x1="1268.8" y1="1320.5" x2="1278.0" y2="1320.5" stroke="#1a1a1a" stroke-width="2.8"/>
<line x1="1326.0" y1="1323.0" x2="1326.0" y2="1361.8" stroke="#1a1a1a" stroke-width="2"/>
<line x1="1321.4" y1="1323.0" x2="1330.6" y2="1323.0" stroke="#1a1a1a" stroke-width="2.8"/>
<line x1="1321.4" y1="1361.8" x2="1330.6" y2="1361.8" stroke="#1a1a1a" stroke-width="2.8"/>
<line x1="1424.4" y1="1215.7" x2="1424.4" y2="1246.6" stroke="#1a1a1a" stroke-width="2"/>
<line x1="1419.8" y1="1215.7" x2="1429.0" y2="1215.7" stroke="#1a1a1a" stroke-width="2.8"/>
<line x1="1419.8" y1="1246.6" x2="1429.0" y2="1246.6" stroke="#1a1a1a" stroke-width="2.8"/>
<line x1="1477.2" y1="1259.3" x2="1477.2" y2="1286.2" stroke="#1a1a1a" stroke-width="2"/>
<line x1="1472.6" y1="1259.3" x2="1481.8" y2="1259.3" stroke="#1a1a1a" stroke-width="2.8"/>
<line x1="1472.6" y1="1286.2" x2="1481.8" y2="1286.2" stroke="#1a1a1a" stroke-width="2.8"/>
<line x1="1530.4" y1="1244.7" x2="1530.4" y2="1275.4" stroke="#1a1a1a" stroke-width="2"/>
<line x1="1525.8" y1="1244.7" x2="1535.0" y2="1244.7" stroke="#1a1a1a" stroke-width="2.8"/>
<line x1="1525.8" y1="1275.4" x2="1535.0" y2="1275.4" stroke="#1a1a1a" stroke-width="2.8"/>
<line x1="1581.7" y1="1208.1" x2="1581.7" y2="1239.1" stroke="#1a1a1a" stroke-width="2"/>
<line x1="1577.1" y1="1208.1" x2="1586.3" y2="1208.1" stroke="#1a1a1a" stroke-width="2.8"/>
<line x1="1577.1" y1="1239.1" x2="1586.3" y2="1239.1" stroke="#1a1a1a" stroke-width="2.8"/>
<line x1="1687.3" y1="1253.9" x2="1687.3" y2="1302.3" stroke="#1a1a1a" stroke-width="2"/>
<line x1="1682.8" y1="1253.9" x2="1691.9" y2="1253.9" stroke="#1a1a1a" stroke-width="2.8"/>
<line x1="1682.8" y1="1302.3" x2="1691.9" y2="1302.3" stroke="#1a1a1a" stroke-width="2.8"/>
<line x1="1714.9" y1="1107.2" x2="1714.9" y2="1143.6" stroke="#1a1a1a" stroke-width="2"/>
<line x1="1710.3" y1="1107.2" x2="1719.5" y2="1107.2" stroke="#1a1a1a" stroke-width="2.8"/>
<line x1="1710.3" y1="1143.6" x2="1719.5" y2="1143.6" stroke="#1a1a1a" stroke-width="2.8"/>
<line x1="1635.8" y1="1052.9" x2="1635.8" y2="1073.1" stroke="#000" stroke-width="3"/>
<line x1="1635.8" y1="1112.1" x2="1635.8" y2="1152.4" stroke="#000" stroke-width="3"/>
<line x1="1635.8" y1="1191.5" x2="1635.8" y2="1234.5" stroke="#000" stroke-width="3"/>
<line x1="1635.8" y1="1273.5" x2="1635.8" y2="1315.3" stroke="#000" stroke-width="3"/>
<line x1="1635.8" y1="1352.9" x2="1635.8" y2="1396.0" stroke="#000" stroke-width="3"/>
<line x1="1635.8" y1="1432.3" x2="1635.8" y2="1454.0" stroke="#000" stroke-width="3"/>
<path d="M1108.6,1054.0 V1454.3 H1767.5" fill="none" stroke="#000" stroke-width="3.1"/>
<line x1="1108.6" y1="1454.3" x2="1115.5" y2="1454.3" stroke="#000" stroke-width="2.4"/>
<line x1="1108.6" y1="1414.4" x2="1115.5" y2="1414.4" stroke="#000" stroke-width="2.4"/>
<line x1="1108.6" y1="1374.4" x2="1115.5" y2="1374.4" stroke="#000" stroke-width="2.4"/>
<line x1="1108.6" y1="1334.5" x2="1115.5" y2="1334.5" stroke="#000" stroke-width="2.4"/>
<line x1="1108.6" y1="1294.6" x2="1115.5" y2="1294.6" stroke="#000" stroke-width="2.4"/>
<line x1="1108.6" y1="1254.7" x2="1115.5" y2="1254.7" stroke="#000" stroke-width="2.4"/>
<line x1="1108.6" y1="1214.7" x2="1115.5" y2="1214.7" stroke="#000" stroke-width="2.4"/>
<line x1="1108.6" y1="1174.8" x2="1115.5" y2="1174.8" stroke="#000" stroke-width="2.4"/>
<line x1="1108.6" y1="1134.9" x2="1115.5" y2="1134.9" stroke="#000" stroke-width="2.4"/>
<line x1="1108.6" y1="1094.9" x2="1115.5" y2="1094.9" stroke="#000" stroke-width="2.4"/>
<line x1="1108.6" y1="1055.0" x2="1115.5" y2="1055.0" stroke="#000" stroke-width="2.4"/>
<text x="1096.1" y="1460.3" font-size="26.9" fill="#111" text-anchor="end" >0</text>
<text x="1096.1" y="1380.4" font-size="26.9" fill="#111" text-anchor="end" >0.02</text>
<text x="1096.1" y="1300.6" font-size="26.9" fill="#111" text-anchor="end" >0.04</text>
<text x="1096.1" y="1220.7" font-size="26.9" fill="#111" text-anchor="end" >0.06</text>
<text x="1096.1" y="1140.9" font-size="26.9" fill="#111" text-anchor="end" >0.08</text>
<text x="1096.1" y="1061.0" font-size="26.9" fill="#111" text-anchor="end" >0.1</text>
<text transform="translate(1018.5,1241.6) rotate(-90)" font-size="36.8" text-anchor="middle" fill="#000">Δ accuracy</text>
<text x="1227.5" y="893.5" font-size="43.2" fill="#000" text-anchor="start" >Feature Contribution</text>
<text x="1173.2" y="945.3" font-size="43.2" fill="#000" text-anchor="start" >to LD Category Information</text>
<text x="1000.1" y="982.3" font-size="50" font-weight="bold" fill="#000">d</text>
<text transform="translate(1152.1,1471.5) rotate(61)" font-size="26.7" fill="#000">DeepGaze</text>
<text transform="translate(1205.7,1471.7) rotate(61)" font-size="26.7" fill="#000">Salience</text>
<text transform="translate(1257.4,1471.7) rotate(61)" font-size="26.7" fill="#000">Symmetry</text>
<text transform="translate(1311.3,1472.8) rotate(61)" font-size="26.7" fill="#000">Junctions</text>
<text transform="translate(1406.8,1471.5) rotate(61)" font-size="26.7" fill="#000">DeepGaze</text>
<text transform="translate(1459.6,1471.7) rotate(61)" font-size="26.7" fill="#000">Salience</text>
<text transform="translate(1512.1,1471.7) rotate(61)" font-size="26.7" fill="#000">Symmetry</text>
<text transform="translate(1566.3,1472.8) rotate(61)" font-size="26.7" fill="#000">Junctions</text>
<text x="1697.9" y="1481.0" font-size="27" fill="#000" text-anchor="middle" >FDM</text>
<rect x="1175.9" y="1596.7" width="29" height="29" fill="#0072bd" stroke="#111" stroke-width="2.6"/>
<rect x="1434.2" y="1596.7" width="29" height="29" fill="#d95319" stroke="#111" stroke-width="2.6"/>
<text x="1210.5" y="1622.3" font-size="37.3" fill="#000" text-anchor="start" >Bottom-Up</text>
<text x="1471.0" y="1622.3" font-size="37.3" fill="#000" text-anchor="start" >Top-Down</text>
</svg>
</body></html>
